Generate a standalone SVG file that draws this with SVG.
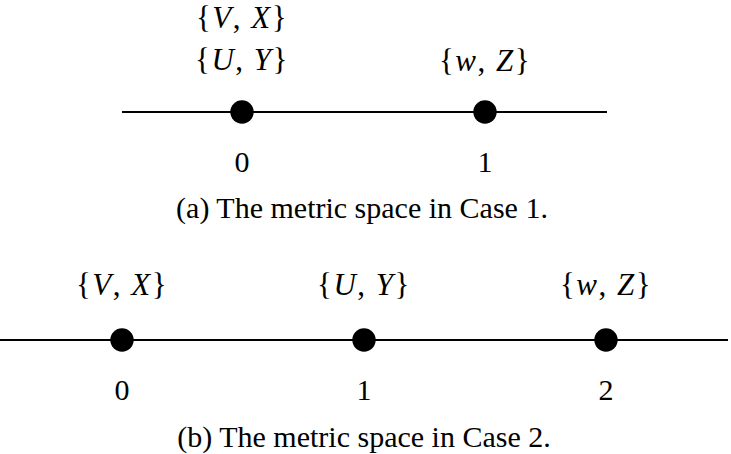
<svg xmlns="http://www.w3.org/2000/svg" width="731" height="454" viewBox="0 0 731 454">
<style>
text{font-family:"Liberation Serif","Times New Roman",serif;font-size:30px;fill:#000;text-anchor:middle}
.m{font-size:31px;letter-spacing:1.5px}
.i{font-style:italic}
.axis{stroke:#000;stroke-width:2.2;fill:none}
.dot{fill:#000}
</style>
<rect width="731" height="454" fill="#fff"/>
<g id="connectors">
<line class="axis" x1="122" y1="112" x2="607" y2="112"/>
<line class="axis" x1="0" y1="340" x2="728" y2="340"/>
</g>
<g id="a-node0">
<circle class="dot" cx="242" cy="112" r="11.7"/>
<text class="m" x="242" y="28">{<tspan class="i">V</tspan>, <tspan class="i">X</tspan>}</text>
<text class="m" x="242" y="70">{<tspan class="i">U</tspan>, <tspan class="i">Y</tspan>}</text>
<text x="242" y="172">0</text>
</g>
<g id="a-node1">
<circle class="dot" cx="485" cy="112" r="11.7"/>
<text class="m" x="485" y="71">{<tspan class="i">w</tspan>, <tspan class="i">Z</tspan>}</text>
<text x="485" y="172">1</text>
</g>
<text id="caption-a" x="362" y="218">(a) The metric space in Case 1.</text>
<g id="b-node0">
<circle class="dot" cx="122" cy="340" r="11.7"/>
<text class="m" x="122" y="295">{<tspan class="i">V</tspan>, <tspan class="i">X</tspan>}</text>
<text x="122" y="400">0</text>
</g>
<g id="b-node1">
<circle class="dot" cx="364" cy="340" r="11.7"/>
<text class="m" x="364" y="295">{<tspan class="i">U</tspan>, <tspan class="i">Y</tspan>}</text>
<text x="364" y="400">1</text>
</g>
<g id="b-node2">
<circle class="dot" cx="606" cy="340" r="11.7"/>
<text class="m" x="606" y="295">{<tspan class="i">w</tspan>, <tspan class="i">Z</tspan>}</text>
<text x="606" y="400">2</text>
</g>
<text id="caption-b" x="364" y="447">(b) The metric space in Case 2.</text>
</svg>
